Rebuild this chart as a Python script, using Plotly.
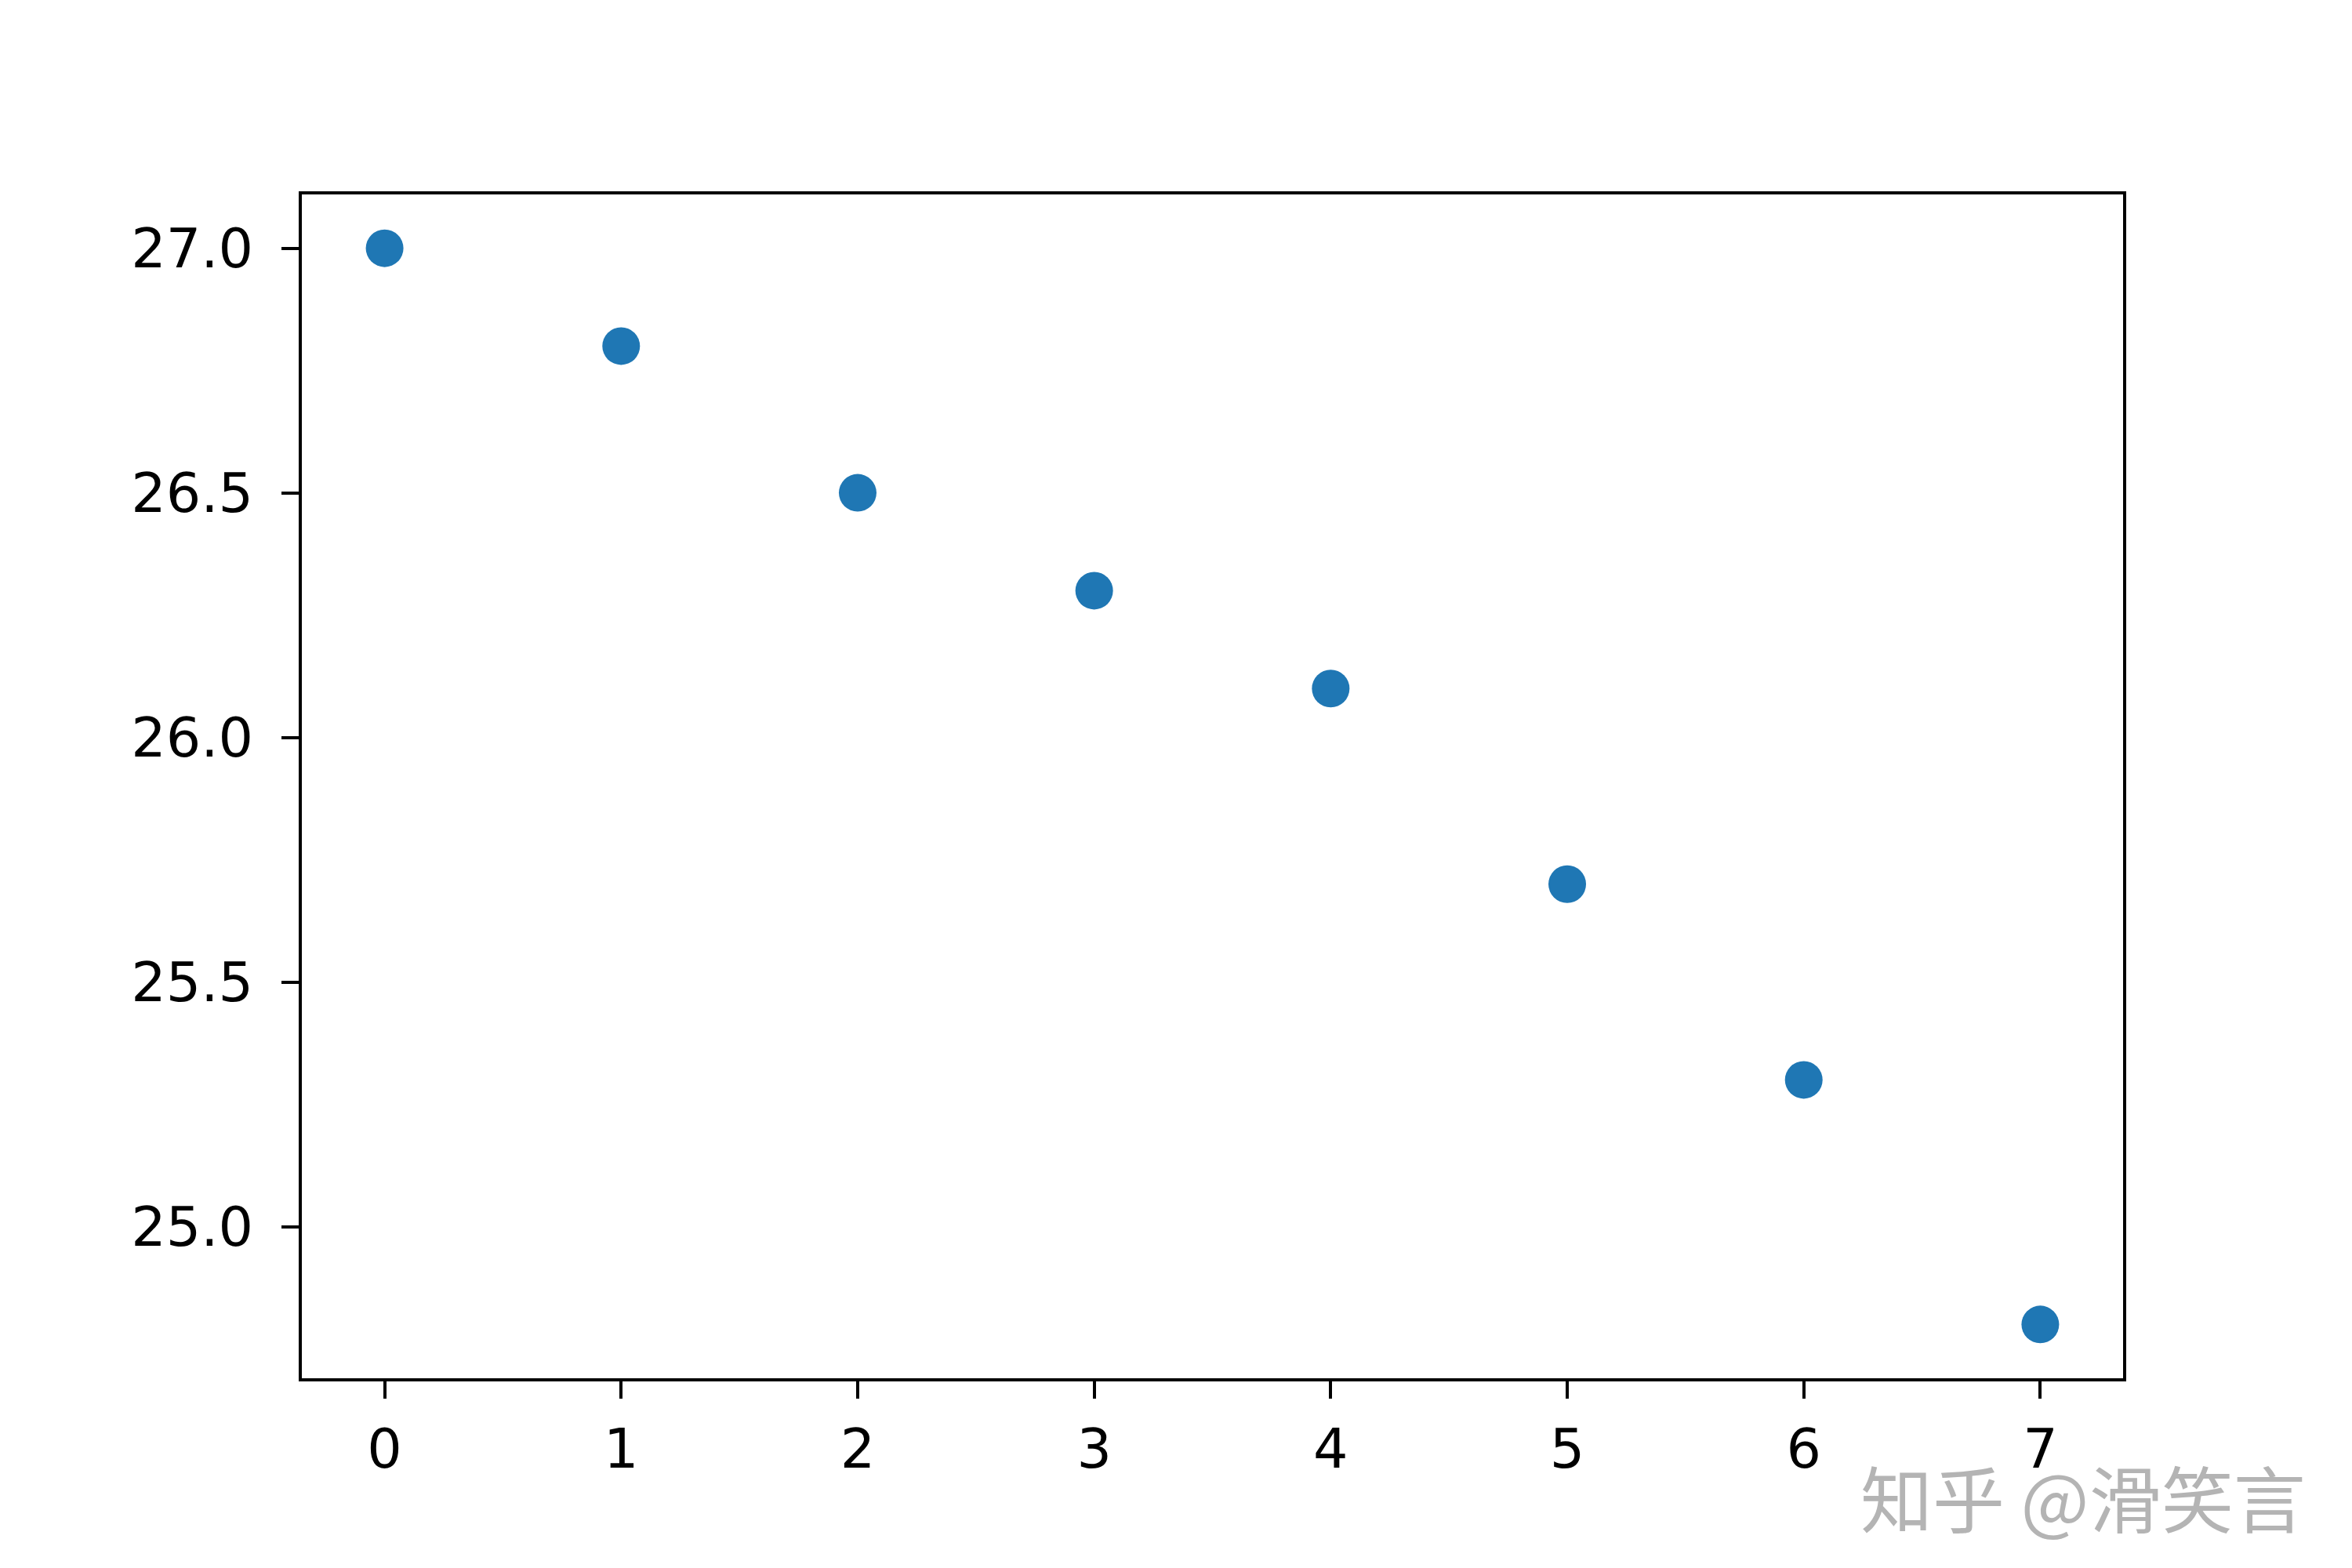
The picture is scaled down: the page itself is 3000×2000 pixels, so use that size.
import plotly.graph_objects as go

# data
x_vals = [0, 1, 2, 3, 4, 5, 6, 7]
y_vals = [27.0, 26.8, 26.5, 26.3, 26.1, 25.7, 25.3, 24.8]
y_ticks = [25.0, 25.5, 26.0, 26.5, 27.0]
y_tick_text = ['25.0', '25.5', '26.0', '26.5', '27.0']

fig = go.Figure()

fig.add_trace(go.Scatter(
    x=x_vals,
    y=y_vals,
    mode='markers',
    marker=dict(size=48, color='#1f77b4', line=dict(width=0)),
    showlegend=False
))

axis_style = dict(
    showgrid=False,
    zeroline=False,
    showline=True,
    mirror=True,
    linecolor='black',
    linewidth=4,
    ticks='outside',
    ticklen=22,
    tickwidth=4,
    tickcolor='black',
    tickfont=dict(family='DejaVu Sans', size=70, color='black'),
)

fig.update_xaxes(range=[-0.35, 7.35], tickmode='array', tickvals=x_vals,
                 ticktext=[str(v) for v in x_vals], ticklabelstandoff=4,
                 **axis_style)
fig.update_yaxes(range=[24.69, 27.11], tickmode='array', tickvals=y_ticks,
                 ticktext=y_tick_text, ticklabelstandoff=22, **axis_style)

# watermark in the bottom right corner
fig.add_annotation(
    xref='paper', yref='paper',
    x=0.978, y=-0.099,
    xanchor='center', yanchor='middle',
    text='知乎 @滑笑言',
    showarrow=False,
    font=dict(family='Noto Sans CJK SC', size=92, color='#b4b4b4'),
)

fig.update_layout(
    width=3000,
    height=2000,
    margin=dict(l=377, r=300, t=240, b=250),
    plot_bgcolor='white',
    paper_bgcolor='white',
)

fig.write_html("out.html")
